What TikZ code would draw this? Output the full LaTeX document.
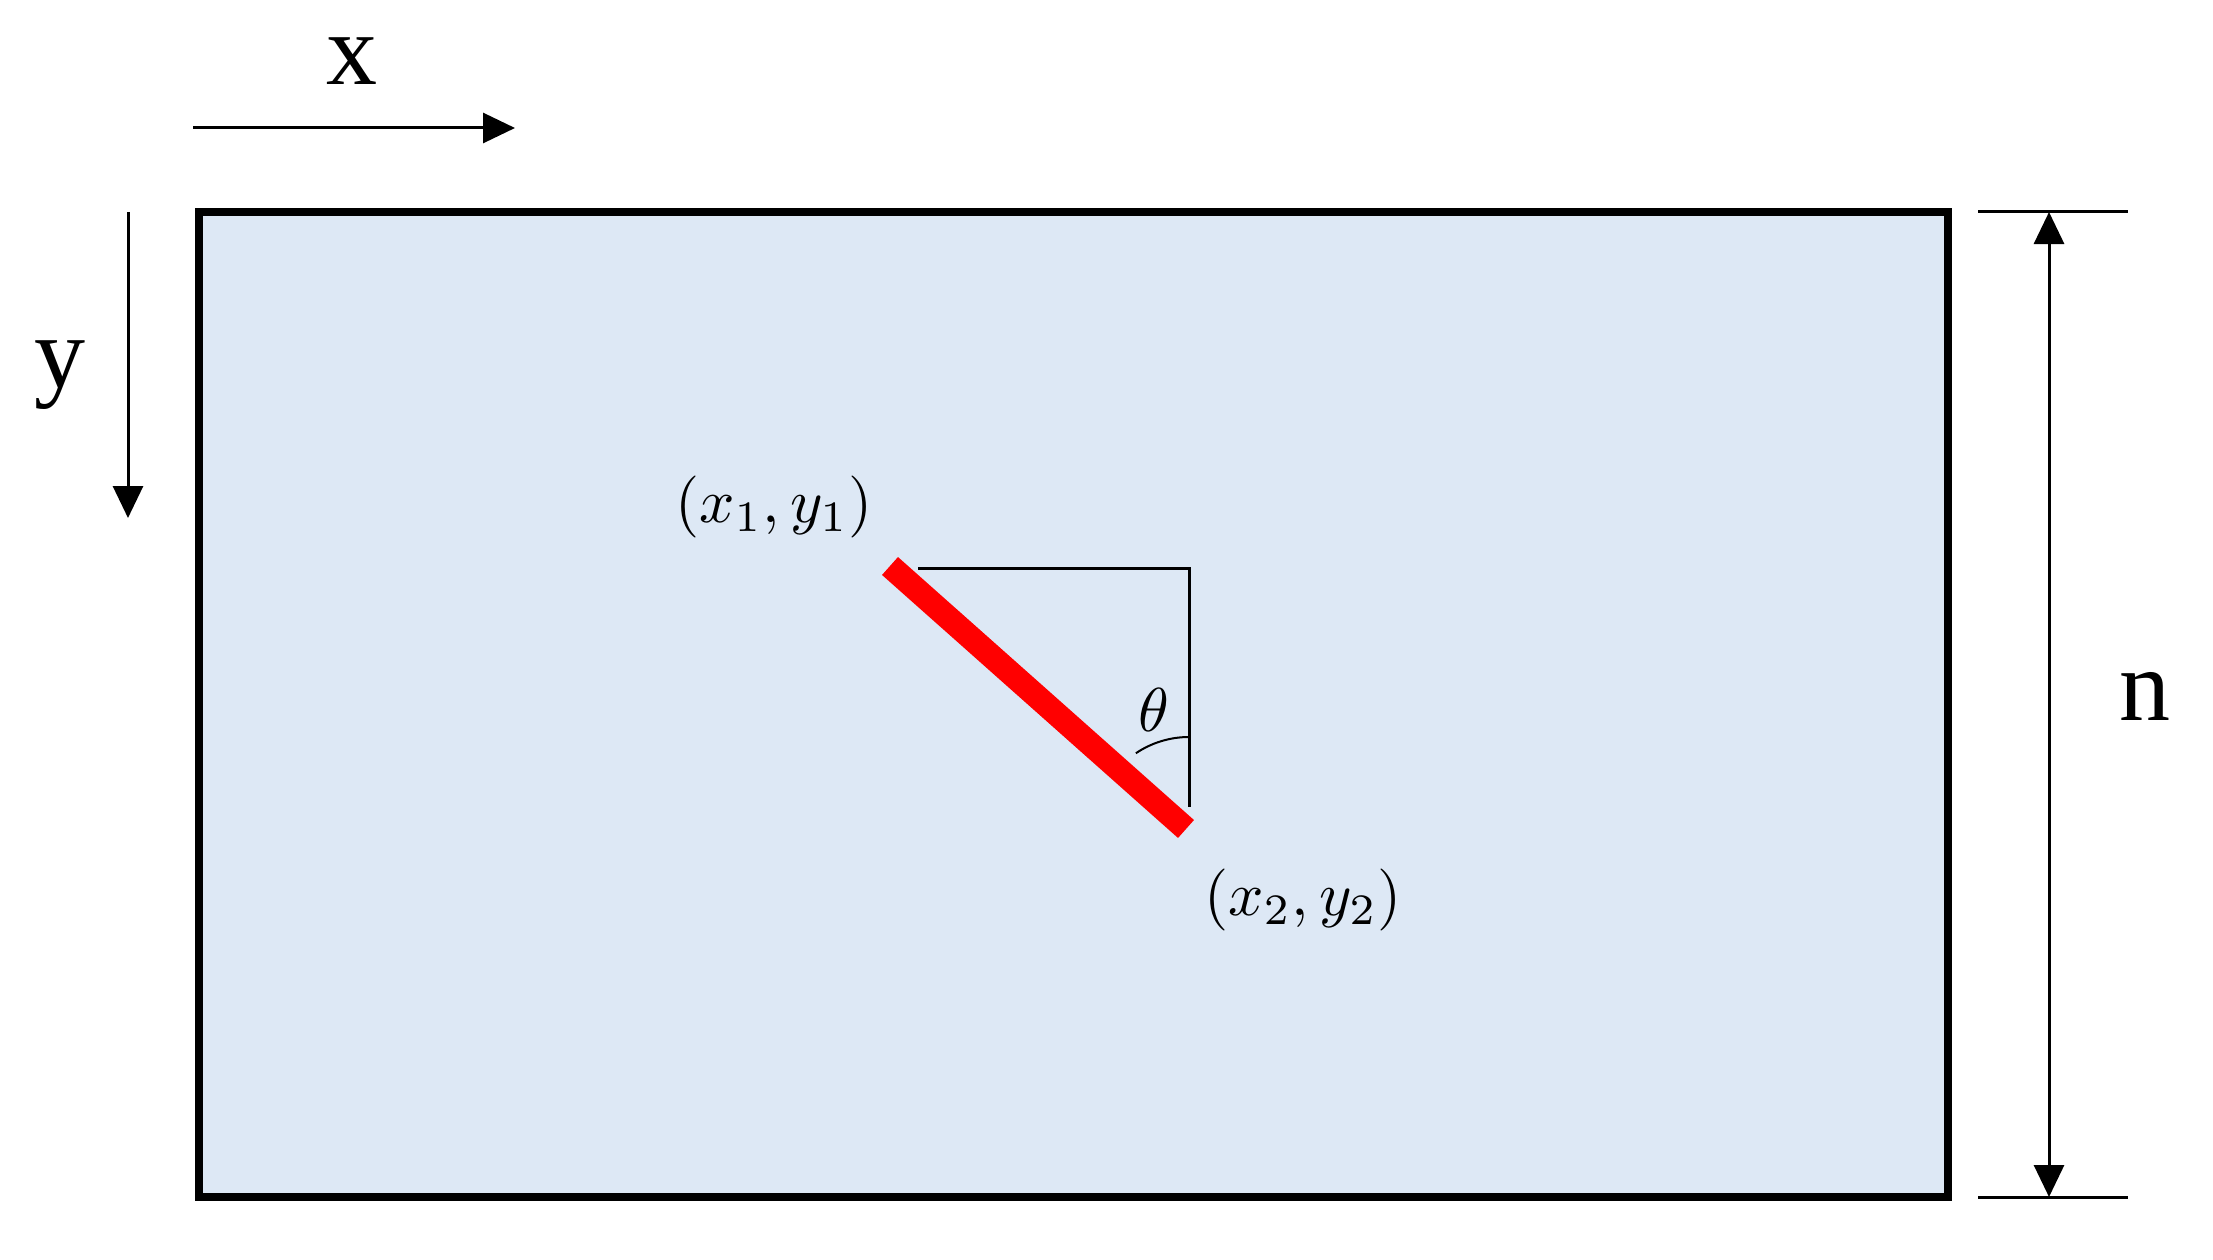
\documentclass[tikz,border=0pt]{standalone}
\usepackage{fontspec}
\newfontfamily\labelserif{Liberation Serif}
\usetikzlibrary{arrows.meta}
\definecolor{panelfill}{HTML}{DDE8F5}
\definecolor{barred}{HTML}{FF0000}
\newcommand{\bigmath}[1]{\scalebox{6.2}{$#1$}}
\begin{document}
\begin{tikzpicture}[x=1pt,y=-1pt,
  axisarrow/.style={line width=3pt,-{Triangle[length=32pt,width=30pt]}},
  dimarrow/.style={line width=3pt,{Triangle[length=32pt,width=30pt]}-{Triangle[length=32pt,width=30pt]}},
  guide/.style={line width=3pt},
  axislabel/.style={font=\labelserif\fontsize{102}{110}\selectfont,anchor=base,inner sep=0pt},
  mathlabel/.style={inner sep=0pt}]
\useasboundingbox (0,0) rectangle (2213,1260);
% frame
\coordinate (fTL) at (199,212);
\coordinate (fBR) at (1948,1197);
\draw[line width=8pt,fill=panelfill] (fTL) rectangle (fBR);
% x axis arrow
\coordinate (xs) at (193,128);
\coordinate (xe) at (515,128);
\draw[axisarrow] (xs) -- (xe);
\node[axislabel] (xlab) at (352,85) {x};
% y axis arrow
\coordinate (ys) at (128,212);
\coordinate (ye) at (128,518);
\draw[axisarrow] (ys) -- (ye);
\node[axislabel] (ylab) at (60,387) {y};
% dimension n
\coordinate (tickTL) at (1978,212);
\coordinate (tickTR) at (2128,212);
\coordinate (tickBL) at (1978,1197);
\coordinate (tickBR) at (2128,1197);
\coordinate (dimT) at (2049,212);
\coordinate (dimB) at (2049,1197);
\draw[guide] (tickTL) -- (tickTR);
\draw[guide] (tickBL) -- (tickBR);
\draw[dimarrow] (dimT) -- (dimB);
\node[axislabel] (nlab) at (2145,720) {n};
% triangle guides
\coordinate (hL) at (918,568);
\coordinate (corner) at (1189,568);
\coordinate (vB) at (1189,807);
\draw[guide] (hL) -- (corner) -- (vB);
% angle arc
\coordinate (vertex) at (1189,832);
\draw[line width=2pt] (vertex) ++(270:95) arc[start angle=270,end angle=236,radius=95];
\node[mathlabel] (theta) at (1154,710) {\bigmath{\theta}};
% red bar
\coordinate (p1) at (890,566);
\coordinate (p2) at (1186,829);
\draw[line width=24pt,barred] (p1) -- (p2);
% point labels
\node[mathlabel] (l1) at (774,507) {\bigmath{(x_1,y_1)}};
\node[mathlabel] (l2) at (1303,900) {\bigmath{(x_2,y_2)}};
\end{tikzpicture}
\end{document}
